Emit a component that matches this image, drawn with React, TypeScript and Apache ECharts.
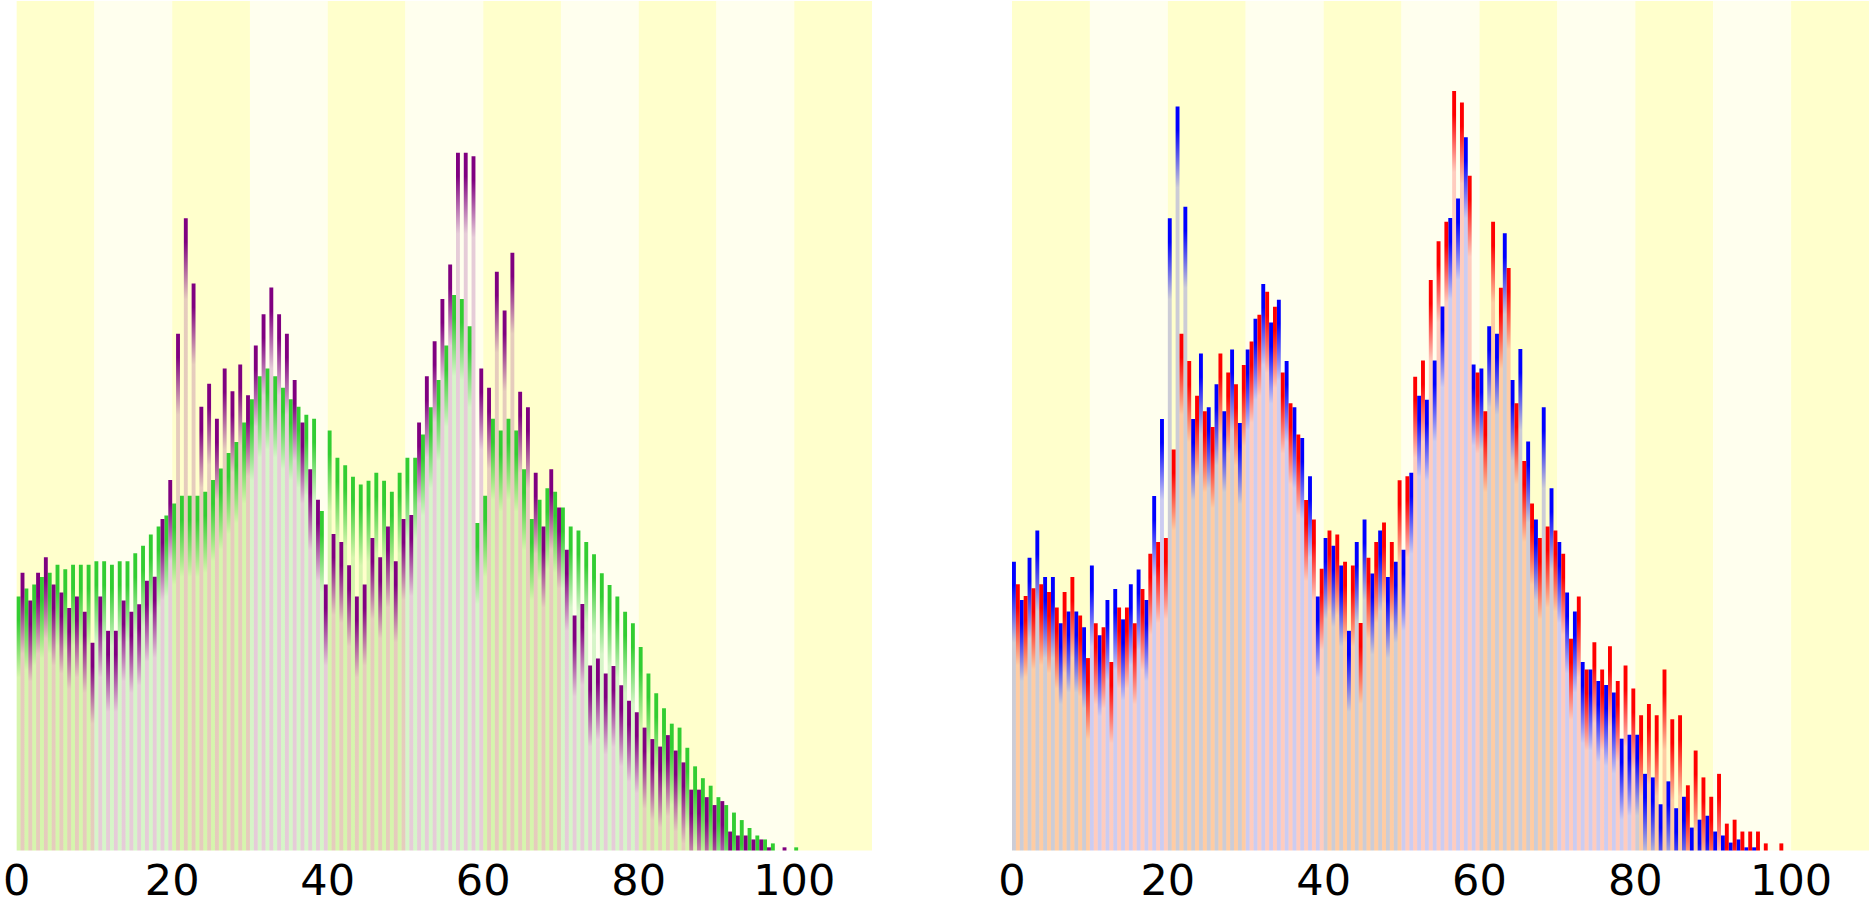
import React, { useEffect, useRef } from 'react';
import * as echarts from 'echarts';

// x bins (one category per unit, 0..109)
const bins: string[] = Array.from({ length: 110 }, (_, i) => String(i));

// tick labels shown on the x axes
const xTickLabels = [0, 20, 40, 60, 80, 100];

// left panel
const greenSeries = [
  64.3, 66.3, 67.3, 69.2, 70.3, 72.3, 71.2, 72.3, 72.3, 72.3,
  73.2, 73.2, 72.3, 73.2, 73.2, 75.2, 77.1, 80, 82, 84.8,
  87.8, 89.8, 89.8, 89.8, 90.8, 93.8, 96.7, 100.6, 103.4, 108.3,
  114.2, 120, 122, 120, 117.1, 114.2, 112.3, 110.3, 109.3, 85.9,
  106.3, 99.4, 97.5, 94.6, 92.6, 93.6, 95.6, 93.6, 90.8, 95.6,
  99.4, 99.4, 105.3, 112.2, 119.1, 127.8, 140.6, 139.6, 132.7, 82.9,
  89.8, 109.3, 106.3, 109.3, 106.3, 96.5, 83.9, 88.8, 91.7, 90.8,
  86.8, 82, 81, 78.1, 75, 70.2, 67.2, 64.3, 60.4, 57.5,
  51.5, 44.8, 39.8, 36, 32.1, 31.1, 26, 21.3, 18.3, 16.4,
  13.5, 11.5, 9.6, 7.7, 5.7, 3.8, 2.8, 1.8, 0, 0,
  0.8,
];
const purpleSeries = [
  70.3, 63.3, 70.3, 74.2, 67.3, 65.3, 61.4, 64.3, 60.4, 52.6,
  64.3, 55.6, 55.6, 63.3, 60.4, 62.3, 68.3, 69.3, 83.9, 93.8,
  130.8, 160, 143.5, 112.3, 118.1, 109.3, 122, 116.2, 123, 115.2,
  127.8, 135.7, 142.5, 135.7, 130.8, 119.1, 108.3, 96.5, 88.8, 67.3,
  80.1, 78.1, 72.2, 64.3, 67.3, 79.1, 74.2, 82, 73.2, 83.9,
  84.9, 108.3, 120, 128.9, 139.6, 148.3, 176.6, 176.6, 175.7, 122,
  117.1, 146.5, 136.7, 151.3, 116.1, 112.2, 95.6, 82, 96.5, 86.8,
  76.1, 59.5, 62.4, 46.8, 48.6, 44.8, 46.7, 41.8, 37.9, 35,
  31.1, 28.2, 26.3, 29.2, 25.3, 22.3, 15.4, 15.4, 13.5, 11.5,
  12.5, 4.8, 3.8, 3.8, 2.8, 2.8, 0.8, 0, 0.8, 0,
  0,
];

// right panel
const blueSeries = [
  73.1, 63.4, 74.1, 81, 69.2, 69.2, 57.5, 60.5, 60.5, 56.5,
  72.1, 54.5, 63.4, 66.2, 58.5, 67.4, 71.1, 63.4, 89.7, 109.2,
  160, 188.3, 162.9, 109.2, 125.8, 112.2, 118, 111.2, 126.8, 108.2,
  126.8, 134.6, 143.4, 133.6, 139.4, 123.9, 112.2, 104.4, 94.7, 64.3,
  79.1, 77.1, 72.1, 55.6, 78.1, 83.8, 70.1, 81, 69.2, 73.1,
  76.1, 95.6, 115.1, 114.1, 124, 137.7, 160.1, 165, 180.5, 123,
  122, 132.7, 130.8, 156.2, 119.1, 126.9, 103.5, 83.8, 112.2, 91.7,
  78.1, 65.3, 60.5, 47.7, 45.8, 42.9, 41.9, 40, 28.3, 29.3,
  29.3, 19.4, 18.5, 11.7, 17.5, 10.7, 13.6, 5.8, 7.8, 8.8,
  4.8, 3.8, 2, 2.8, 0.8, 0.8, 0, 0, 0, 0,
  0,
];
const redSeries = [
  67.4, 64.4, 66.4, 67.4, 65.4, 61.5, 65.4, 69.2, 59.5, 48.7,
  57.5, 56.5, 47.7, 61.5, 61.5, 57.5, 66.2, 75.1, 78.1, 79.1,
  101.5, 130.8, 123.9, 115.1, 111.2, 107.2, 125.8, 121, 118, 122.9,
  128.8, 135.6, 141.4, 137.6, 121, 113.2, 105.3, 88.7, 83.8, 71.3,
  81, 80, 73.1, 72.1, 57.6, 74.1, 78.1, 83, 78.1, 93.7,
  94.7, 119.9, 124, 144.4, 154.2, 159.1, 192.2, 189.3, 170.8, 121,
  111.2, 159.1, 142.4, 147.4, 113.2, 98.6, 87.8, 79.1, 82, 81,
  75.1, 53.6, 64.3, 45.8, 52.7, 45.8, 51.7, 42.9, 46.8, 41,
  34.2, 37.1, 34.2, 45.8, 33.2, 34.2, 16.5, 25.3, 18.5, 13.6,
  19.4, 6.8, 7.8, 4.8, 4.8, 4.8, 1.8, 0, 1.8, 0,
  0,
];

const Y_MAX = 215;
const PLOT_H = 859;

function makeData(values: number[], rgb: string) {
  const solidPx = 24;
  const fadePx = 82;
  const solid = `rgba(${rgb},1)`;
  const pale = `rgba(${rgb},0.2)`;
  return values.map((v) => {
    const h = (v / Y_MAX) * PLOT_H;
    if (h <= 0) return { value: v };
    const s1 = Math.min(1, solidPx / h);
    const s2 = fadePx / h;
    let stops;
    if (s2 <= 1) {
      stops = [
        { offset: 0, color: solid },
        { offset: s1, color: solid },
        { offset: s2, color: pale },
        { offset: 1, color: pale },
      ];
    } else {
      const t = s1 >= 1 ? 0 : (1 - s1) / (s2 - s1);
      const a = 1 - 0.8 * t;
      stops = [
        { offset: 0, color: solid },
        { offset: s1, color: solid },
        { offset: 1, color: `rgba(${rgb},${a.toFixed(3)})` },
      ];
    }
    return {
      value: v,
      itemStyle: { color: new echarts.graphic.LinearGradient(0, 0, 0, 1, stops) },
    };
  });
}

function valueAxis(gridIndex: number) {
  return {
    type: 'value',
    gridIndex,
    position: 'bottom',
    min: 0,
    max: 110,
    interval: 10,
    axisLine: { show: false },
    axisTick: { show: false },
    splitLine: { show: false },
    splitArea: { show: true, areaStyle: { color: ['#ffffcc', '#ffffee'] } },
    axisLabel: {
      margin: 17,
      fontSize: 43,
      lineHeight: 24,
      fontFamily: 'DejaVu Sans',
      color: '#000',
      showMaxLabel: true,
      formatter: (v: number) => (xTickLabels.indexOf(v) >= 0 ? String(v) : ''),
    },
  };
}

function catAxis(gridIndex: number) {
  return {
    type: 'category',
    gridIndex,
    position: 'bottom',
    data: bins,
    boundaryGap: true,
    show: false,
  };
}

export default function App() {
  const ref = useRef<HTMLDivElement>(null);
  useEffect(() => {
    if (!ref.current) return;
    const chart = echarts.init(ref.current, null, { renderer: 'svg' });
    const barCommon = { type: 'bar', barGap: '0%', barCategoryGap: '0%' };
    chart.setOption({
      animation: false,
      grid: [
        { left: 12, top: 1, width: 860, height: PLOT_H },
        { left: 1012, top: 1, width: 860, height: PLOT_H },
      ],
      xAxis: [catAxis(0), valueAxis(0), catAxis(1), valueAxis(1)],
      yAxis: [
        { type: 'value', gridIndex: 0, min: 0, max: Y_MAX, show: false },
        { type: 'value', gridIndex: 1, min: 0, max: Y_MAX, show: false },
      ],
      series: [
        { ...barCommon, name: 'green', xAxisIndex: 0, yAxisIndex: 0, data: makeData(greenSeries, '50,205,50') },
        { ...barCommon, name: 'purple', xAxisIndex: 0, yAxisIndex: 0, data: makeData(purpleSeries, '128,0,128') },
        { ...barCommon, name: 'blue', xAxisIndex: 2, yAxisIndex: 1, data: makeData(blueSeries, '0,0,255') },
        { ...barCommon, name: 'red', xAxisIndex: 2, yAxisIndex: 1, data: makeData(redSeries, '255,0,0') },
      ],
    });
    return () => chart.dispose();
  }, []);
  return (
    <div
      ref={ref}
      style={{ position: 'absolute', left: 0, top: 0, width: 1872, height: 901 }}
    />
  );
}
